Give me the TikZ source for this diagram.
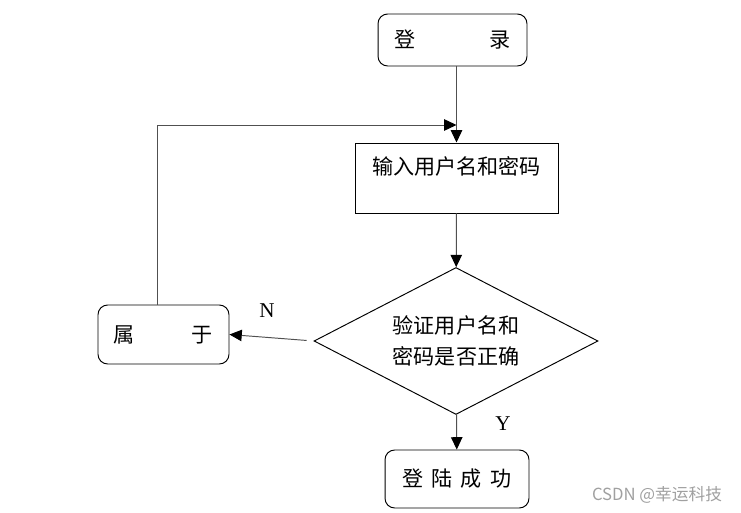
\documentclass[tikz,border=0pt]{standalone}
\usepackage{fontspec}
\setmainfont{Liberation Serif}
\newfontfamily\cjk{Noto Sans CJK SC}
\usetikzlibrary{shapes.geometric,arrows.meta,positioning}
\definecolor{mark}{HTML}{A0A0A0}
\definecolor{wire}{HTML}{505050}

\begin{document}
\begin{tikzpicture}[x=0.02cm, y=-0.02cm,
    every node/.style={font=\cjk\fontsize{12}{14}\selectfont},
    roundbox/.style={rectangle, draw, rounded corners=5.5pt, line width=0.55pt, inner sep=0pt},
    procbox/.style={rectangle, draw, line width=0.55pt, inner sep=0pt, minimum width=4.06cm, minimum height=1.4cm},
    decision/.style={diamond, draw, line width=0.55pt, inner sep=0pt, aspect=1.93, minimum width=5.68cm, minimum height=2.94cm, align=center, font=\cjk\fontsize{12}{17.6}\selectfont},
    arr/.style={-{Triangle[length=7pt,width=6.5pt,color=black]}, line width=0.55pt, draw=wire},
    yn/.style={font=\fontsize{12}{14}\selectfont}
]
    \useasboundingbox (0,0) rectangle (741,513);

    \node[roundbox, minimum width=2.98cm, minimum height=1.04cm] (login) at (452.5,40) {登\hspace{1.48cm}录};
    \node[procbox, text height=0.35cm, text depth=0.47cm] (input) at (456.5,178) {输入用户名和密码};
    \node[decision] (check) at (456,341) {验证用户名和\\密码是否正确};
    \node[roundbox, minimum width=2.62cm, minimum height=1.18cm] (back) at (163.5,334.5) {属\hspace{1.14cm}于};
    \node[roundbox, minimum width=2.88cm, minimum height=1.16cm] (done) at (457,479) {登\hspace{0.16cm}陆\hspace{0.16cm}成\hspace{0.16cm}功};

    \coordinate (corner) at (157,125);
    \coordinate (join) at (456.5,125);

    \draw[arr] (login.south -| input.north) -- (input.north);
    \draw[arr] (input) -- (check);
    \draw[arr, shorten <=0.14cm] (check.west) -- (back.east);
    \draw[arr] (check) -- (done);
    % back to the login form
    \draw[arr] (back.north -| corner) -- (corner) -- (join);

    \node[yn] (nlbl) at (267,311) {N};
    \node[yn] (ylbl) at (503,424) {Y};

    \node[font=\cjk\fontsize{9.5}{11}\selectfont, text=mark] (wm) at (657,495) {CSDN @幸运科技};
\end{tikzpicture}
\end{document}
